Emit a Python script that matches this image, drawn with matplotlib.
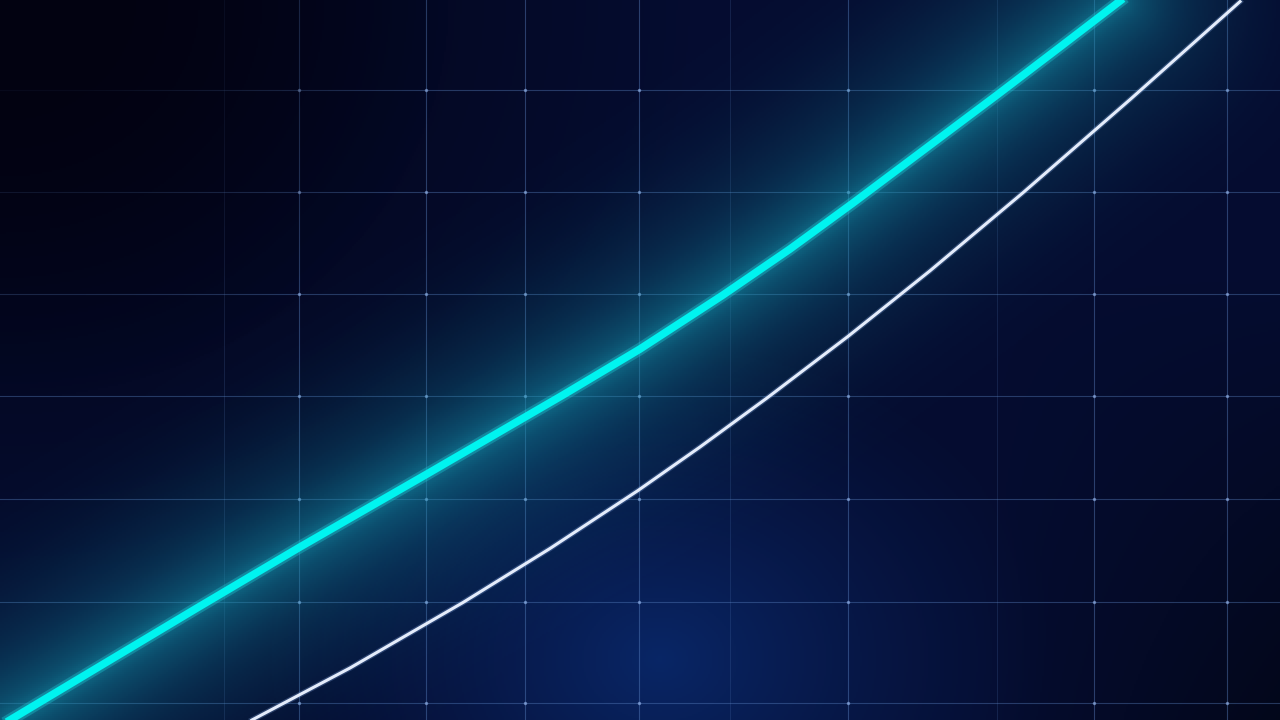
import numpy as np
import matplotlib.pyplot as plt

# curves (x, y in units of 100 px, y from the bottom)
cyan_x = [0.10, 1.97, 3.00, 4.27, 5.63, 6.40, 7.23, 7.90, 8.53, 9.25, 9.97, 10.60, 11.20]
cyan_y = [0.00, 1.12, 1.73, 2.46, 3.25, 3.71, 4.25, 4.71, 5.17, 5.71, 6.25, 6.73, 7.19]
white_x = [2.52, 3.50, 4.63, 5.50, 6.38, 7.00, 7.67, 8.48, 9.30, 10.23, 11.30, 12.40]
white_y = [0.00, 0.52, 1.175, 1.715, 2.295, 2.73, 3.22, 3.836, 4.492, 5.273, 6.204, 7.184]

# grid positions
grid_x = [2.99, 4.26, 5.25, 6.39, 8.48, 10.94, 12.27]
grid_x_faint = [2.24, 7.30, 9.97]
grid_y = [0.17, 1.18, 2.21, 3.24, 4.26, 5.28, 6.30]

W, H = 12.8, 7.2
fig = plt.figure(figsize=(12.8, 7.2), dpi=100)
ax = fig.add_axes([0, 0, 1, 1])
ax.set_xlim(0, W)
ax.set_ylim(0, H)

# background: navy, darker top-left and right, bluer low in the middle
nx, ny = 640, 360
gx, gy = np.meshgrid(np.linspace(0, W, nx), np.linspace(0, H, ny))
dark = np.array([0.008, 0.008, 0.07])
navy = np.array([0.02, 0.05, 0.19])
blue = np.array([0.035, 0.15, 0.40])
t = np.clip(np.sqrt((gx / 7.0) ** 2 + ((H - gy) / 6.0) ** 2), 0, 1)
bg = dark + t[..., None] * (navy - dark)
d = np.sqrt(((gx - 6.6) / 4.0) ** 2 + ((gy - 0.6) / 3.2) ** 2)
k = np.clip(1 - d, 0, 1) ** 1.3
bg = bg + k[..., None] * (blue - navy)
r = np.clip((gx - 9.8) / 3.0, 0, 1) * np.clip((4.5 - gy) / 4.5, 0, 1)
bg = bg * (1 - 0.45 * r[..., None])
ax.imshow(bg, extent=(0, W, 0, H), origin="lower", aspect="auto", zorder=0)

# grid
for v in grid_x:
    ax.axvline(v, color="#5f88c8", lw=0.8, alpha=0.42, zorder=1)
for v in grid_x_faint:
    ax.axvline(v, color="#5f88c8", lw=0.7, alpha=0.18, zorder=1)
for v in grid_y:
    ax.axhline(v, color="#5f88c8", lw=0.8, alpha=0.38, zorder=1)
px, py = np.meshgrid(grid_x, grid_y)
ax.scatter(px.ravel(), py.ravel(), s=6, color="#a8c8ff", alpha=0.55, zorder=2, lw=0)

# fade the grid into the dark top-left corner
vig = np.zeros((ny, nx, 4))
v1 = np.clip(1 - np.sqrt((gx / 4.5) ** 2 + ((H - gy) / 4.0) ** 2), 0, 1)
vig[..., 0:3] = dark
vig[..., 3] = np.clip(1.2 * v1, 0, 0.85)
ax.imshow(vig, extent=(0, W, 0, H), origin="lower", aspect="auto", zorder=3)

# soft teal haze around the cyan curve
cx, cy = np.array(cyan_x), np.array(cyan_y)
dist = np.full(gx.shape, 1e9)
for i in range(len(cx) - 1):
    ax0, ay0, bx0, by0 = cx[i], cy[i], cx[i + 1], cy[i + 1]
    sx, sy = bx0 - ax0, by0 - ay0
    u = np.clip(((gx - ax0) * sx + (gy - ay0) * sy) / (sx * sx + sy * sy), 0, 1)
    dd = np.hypot(gx - (ax0 + u * sx), gy - (ay0 + u * sy))
    dist = np.minimum(dist, dd)
glow = np.zeros((ny, nx, 4))
glow[..., 0:3] = [0.08, 0.60, 0.70]
glow[..., 3] = (0.30 * np.exp(-(dist / 1.1) ** 2) + 0.20 * np.exp(-(dist / 0.4) ** 2)
                + 0.15 * np.exp(-(dist / 0.12) ** 2))
ax.imshow(glow, extent=(0, W, 0, H), origin="lower", aspect="auto", zorder=4)

ax.plot(cyan_x, cyan_y, color="#20e0e8", lw=9, alpha=0.3, zorder=5, solid_joinstyle="round")
ax.plot(cyan_x, cyan_y, color="#00f4f0", lw=5.5, zorder=6, solid_joinstyle="round")

# white line
ax.plot(white_x, white_y, color="#9cc0ff", lw=4, alpha=0.25, zorder=6)
ax.plot(white_x, white_y, color="#e4ecfb", lw=2.2, zorder=7, solid_joinstyle="round")

for s in ax.spines.values():
    s.set_visible(False)
ax.set_xticks([])
ax.set_yticks([])

fig.savefig("out.png", dpi=100, facecolor="#03031a")
